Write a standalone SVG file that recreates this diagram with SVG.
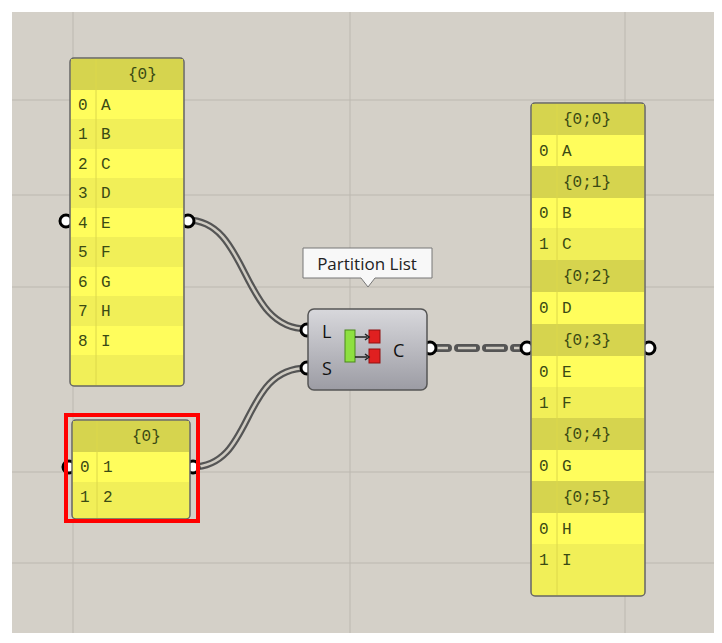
<svg xmlns="http://www.w3.org/2000/svg" width="722" height="643" viewBox="0 0 722 643">
<style>
.t{font-family:"Liberation Mono",monospace;font-size:16px;fill:#3a4a14}
.h{fill:#d6d44e}.a{fill:#fffd5c}.b{fill:#f1ef58}
.port{fill:#fff;stroke:#000;stroke-width:3}
.w1{fill:none;stroke:#555;stroke-width:7}
.w2{fill:none;stroke:#cfcbc2;stroke-width:2.5}
.g{stroke:#bcb8b0;stroke-width:1}
.c{font-family:"Open Sans",sans-serif;font-size:18px;fill:#111}
</style>
<rect width="722" height="643" fill="#fff"/>
<rect x="12" y="12" width="702" height="621" fill="#d4d0c8"/>
<g class="g">
<line x1="73" y1="12" x2="73" y2="633"/><line x1="350" y1="12" x2="350" y2="633"/><line x1="625" y1="12" x2="625" y2="633"/>
<line x1="12" y1="100" x2="714" y2="100"/><line x1="12" y1="195" x2="714" y2="195"/><line x1="12" y1="287" x2="714" y2="287"/><line x1="12" y1="472" x2="714" y2="472"/><line x1="12" y1="563" x2="714" y2="563"/>
</g>
<g id="connectors">
<path class="w1" d="M187,220 C250,220 240,329 307,329"/><path class="w2" d="M187,220 C250,220 240,329 307,329"/>
<path class="w1" d="M192,467 C255,467 240,368 307,368"/><path class="w2" d="M192,467 C255,467 240,368 307,368"/>
<line x1="430" y1="348" x2="527" y2="348" stroke="#555" stroke-width="8" stroke-linecap="round" stroke-dasharray="18,10"/>
<line x1="430" y1="348" x2="527" y2="348" stroke="#cfcbc2" stroke-width="2.5" stroke-dasharray="18,10"/>
</g>
<g id="panelList">
<circle class="port" cx="66" cy="221" r="6"/><circle class="port" cx="188" cy="221" r="6"/>
<rect x="70" y="58" width="114" height="328" rx="4" fill="#f1ef58" stroke="#666" stroke-width="1.5"/>
<rect x="71" y="59" width="112" height="31" class="h"/>
<rect x="71" y="90" width="112" height="29" class="a"/><rect x="71" y="119" width="112" height="30" class="b"/>
<rect x="71" y="149" width="112" height="29" class="a"/><rect x="71" y="178" width="112" height="30" class="b"/>
<rect x="71" y="208" width="112" height="29" class="a"/><rect x="71" y="237" width="112" height="30" class="b"/>
<rect x="71" y="267" width="112" height="29" class="a"/><rect x="71" y="296" width="112" height="30" class="b"/>
<rect x="71" y="326" width="112" height="29" class="a"/>
<line x1="96" y1="59" x2="96" y2="385" stroke="#dcd84a"/>
<text class="t" x="128" y="79">{0}</text>
<text class="t" x="78" y="110">0</text><text class="t" x="101" y="110">A</text>
<text class="t" x="78" y="139">1</text><text class="t" x="101" y="139">B</text>
<text class="t" x="78" y="169">2</text><text class="t" x="101" y="169">C</text>
<text class="t" x="78" y="198">3</text><text class="t" x="101" y="198">D</text>
<text class="t" x="78" y="228">4</text><text class="t" x="101" y="228">E</text>
<text class="t" x="78" y="257">5</text><text class="t" x="101" y="257">F</text>
<text class="t" x="78" y="287">6</text><text class="t" x="101" y="287">G</text>
<text class="t" x="78" y="316">7</text><text class="t" x="101" y="316">H</text>
<text class="t" x="78" y="346">8</text><text class="t" x="101" y="346">I</text>
</g>
<g id="panelSizes">
<circle class="port" cx="69" cy="467" r="6"/><circle class="port" cx="193" cy="467" r="6"/>
<rect x="72" y="420" width="118" height="99" rx="4" fill="#f1ef58" stroke="#666" stroke-width="1.5"/>
<rect x="73" y="421" width="116" height="31" class="h"/>
<rect x="73" y="452" width="116" height="30" class="a"/><rect x="73" y="482" width="116" height="30" class="b"/>
<line x1="97" y1="421" x2="97" y2="518" stroke="#dcd84a"/>
<text class="t" x="132" y="441">{0}</text>
<text class="t" x="80" y="472">0</text><text class="t" x="103" y="472">1</text>
<text class="t" x="80" y="502">1</text><text class="t" x="103" y="502">2</text>
<rect x="66" y="415" width="132" height="106" fill="none" stroke="#f00" stroke-width="4"/>
</g>
<g id="partitionList">
<path d="M303,248 h129 v30 h-57 l-7,9 l-7,-9 h-58 z" fill="#f8f8f8" stroke="#777"/>
<text x="367" y="270" text-anchor="middle" font-family="Open Sans,sans-serif" font-size="17" fill="#222">Partition List</text>
<defs><linearGradient id="cg" x1="0" y1="0" x2="0" y2="1"><stop offset="0" stop-color="#d8d8dc"/><stop offset="1" stop-color="#9c9ca4"/></linearGradient></defs>
<circle class="port" cx="307" cy="330" r="6"/><circle class="port" cx="307" cy="368" r="6"/><circle class="port" cx="430" cy="348" r="6"/>
<rect x="308" y="309" width="119" height="81" rx="6" fill="url(#cg)" stroke="#555" stroke-width="1.5"/>
<text class="c" x="322" y="338">L</text>
<text class="c" x="322" y="375">S</text>
<text class="c" x="393" y="357">C</text>
<rect x="345" y="330" width="10" height="32" fill="#8ee040" stroke="#4a8a1a"/>
<rect x="369" y="330" width="11" height="13" fill="#e02020" stroke="#901010"/>
<rect x="369" y="349" width="11" height="14" fill="#e02020" stroke="#901010"/>
<path d="M355,337 h12 M355,357 h12" stroke="#222" stroke-width="1.5"/>
<path d="M365,334 l4,3 l-4,3 M365,354 l4,3 l-4,3" fill="none" stroke="#222" stroke-width="1.5"/>
</g>
<g id="panelResult">
<circle class="port" cx="527" cy="348" r="6"/><circle class="port" cx="649" cy="348" r="6"/>
<rect x="531" y="103" width="114" height="493" rx="4" fill="#f1ef58" stroke="#666" stroke-width="1.5"/>
<rect x="532" y="104" width="112" height="31" class="h"/><rect x="532" y="135" width="112" height="31" class="a"/>
<rect x="532" y="166" width="112" height="32" class="h"/><rect x="532" y="198" width="112" height="30" class="a"/><rect x="532" y="228" width="112" height="32" class="b"/>
<rect x="532" y="260" width="112" height="32" class="h"/><rect x="532" y="292" width="112" height="32" class="a"/>
<rect x="532" y="324" width="112" height="32" class="h"/><rect x="532" y="356" width="112" height="31" class="a"/><rect x="532" y="387" width="112" height="31" class="b"/>
<rect x="532" y="418" width="112" height="32" class="h"/><rect x="532" y="450" width="112" height="31" class="a"/>
<rect x="532" y="481" width="112" height="32" class="h"/><rect x="532" y="513" width="112" height="31" class="a"/><rect x="532" y="544" width="112" height="32" class="b"/>
<line x1="557" y1="104" x2="557" y2="595" stroke="#dcd84a"/>
<text class="t" x="563" y="124">{0;0}</text>
<text class="t" x="539" y="156">0</text><text class="t" x="562" y="156">A</text>
<text class="t" x="563" y="187">{0;1}</text>
<text class="t" x="539" y="218">0</text><text class="t" x="562" y="218">B</text>
<text class="t" x="539" y="249">1</text><text class="t" x="562" y="249">C</text>
<text class="t" x="563" y="281">{0;2}</text>
<text class="t" x="539" y="313">0</text><text class="t" x="562" y="313">D</text>
<text class="t" x="563" y="345">{0;3}</text>
<text class="t" x="539" y="377">0</text><text class="t" x="562" y="377">E</text>
<text class="t" x="539" y="408">1</text><text class="t" x="562" y="408">F</text>
<text class="t" x="563" y="439">{0;4}</text>
<text class="t" x="539" y="471">0</text><text class="t" x="562" y="471">G</text>
<text class="t" x="563" y="502">{0;5}</text>
<text class="t" x="539" y="534">0</text><text class="t" x="562" y="534">H</text>
<text class="t" x="539" y="565">1</text><text class="t" x="562" y="565">I</text>
</g>
</svg>
